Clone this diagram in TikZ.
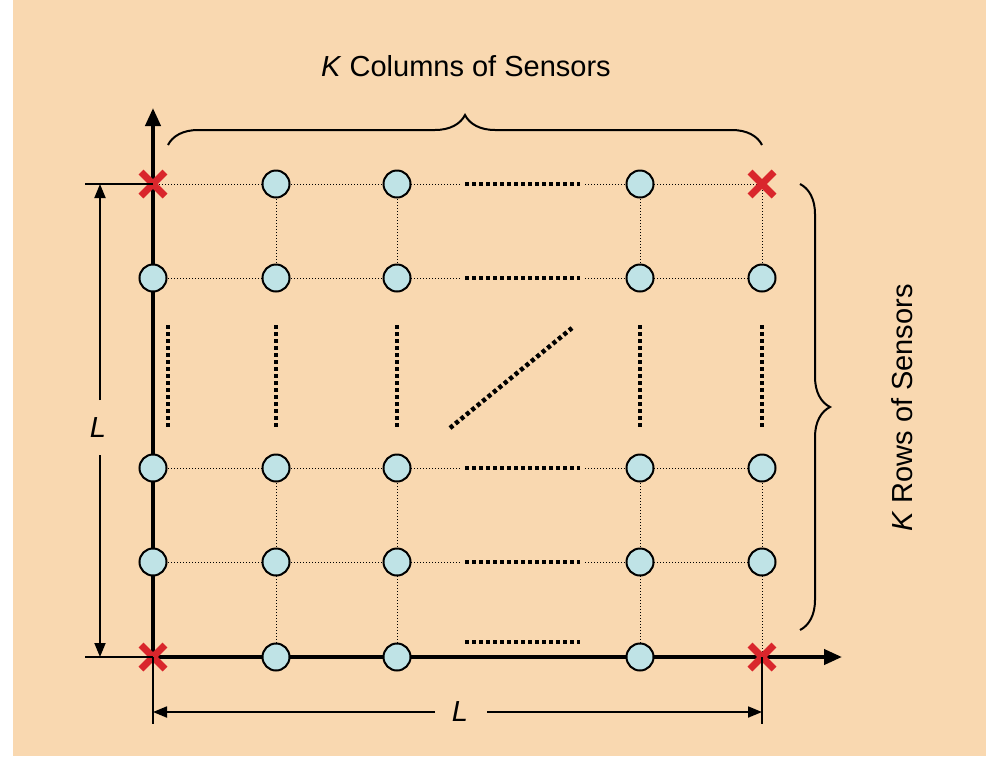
\documentclass[tikz,border=0pt]{standalone}
\usepackage{fontspec}
\setmainfont{Liberation Sans}
\usetikzlibrary{decorations.pathreplacing,arrows.meta,calc}
\definecolor{peach}{HTML}{F9D8B0}
\definecolor{sens}{HTML}{BFE3E6}
\definecolor{xred}{HTML}{D9262C}
\begin{document}
\begin{tikzpicture}[x=1pt,y=-1pt,
  sensor/.style={circle,draw=black,line width=2pt,fill=sens,minimum size=27pt,inner sep=0pt},
  grid/.style={dotted,line width=1pt},
  gap/.style={line width=4.5pt,dash pattern=on 4pt off 3pt},
  lbl/.style={font=\fontsize{29}{34}\selectfont},
  bracestyle/.style={line width=2pt,decorate,decoration={brace,amplitude=30pt}},
  dim/.style={line width=1.8pt,-{Triangle[length=14pt,width=11pt]}}]
\useasboundingbox (0,0) rectangle (995,756);
\fill[white] (0,0) rectangle (995,756);
\fill[peach] (13,0) rectangle (986,756);
% grid lines
\foreach \y in {184,278,468,562}{\draw[grid] (153,\y) -- (460,\y); \draw[grid] (585,\y) -- (762,\y);}
\foreach \x in {276,397,640,762}{\draw[grid] (\x,184) -- (\x,278); \draw[grid] (\x,468) -- (\x,657);}
% gaps
\foreach \y in {184,278,468,562,642}{\draw[gap] (465,\y) -- (580,\y);}
\foreach \x in {168,276,397,640,762}{\draw[gap] (\x,325) -- (\x,428);}
\draw[gap] (450,428) -- (572,328);
% axes
\draw[line width=4pt,-{Triangle[length=18pt,width=15pt]}] (153,657) -- (153,108);
\draw[line width=4pt,-{Triangle[length=18pt,width=15pt]}] (153,657) -- (842,657);
% sensors
\foreach \x/\y [count=\i] in {276/184,397/184,640/184,
  153/278,276/278,397/278,640/278,762/278,
  153/468,276/468,397/468,640/468,762/468,
  153/562,276/562,397/562,640/562,762/562,
  276/657,397/657,640/657}
  \node[sensor] (s\i) at (\x,\y) {};
% crosses
\foreach \x/\y [count=\i] in {153/184,762/184,153/657,762/657}{
  \coordinate (c\i) at (\x,\y);
  \draw[xred,line width=7pt] ($(c\i)+(-12,-12)$) -- ($(c\i)+(12,12)$);
  \draw[xred,line width=7pt] ($(c\i)+(-12,12)$) -- ($(c\i)+(12,-12)$);}
% dimensions
\draw[line width=1.8pt] (85,184) -- (153,184);
\draw[line width=1.8pt] (85,657) -- (153,657);
\draw[line width=1.8pt] (153,657) -- (153,724);
\draw[line width=1.8pt] (762,657) -- (762,724);
\node[font=\fontsize{29}{34}\selectfont\itshape] (lv) at (98,428) {L};
\node[font=\fontsize{29}{34}\selectfont\itshape] (lh) at (460,712) {L};
\draw[dim] (100,400) -- (100,184);
\draw[dim] (100,455) -- (100,657);
\draw[dim] (435,712) -- (153,712);
\draw[dim] (487,712) -- (762,712);
% braces
\draw[bracestyle] (168,145) -- (762,145);
\node[lbl] (top) at (466,66) {\textit{K} Columns of Sensors};
\draw[bracestyle] (800,184) -- (800,630);
\node[lbl,rotate=90] (right) at (902,408) {\textit{K} Rows of Sensors};
\end{tikzpicture}
\end{document}
